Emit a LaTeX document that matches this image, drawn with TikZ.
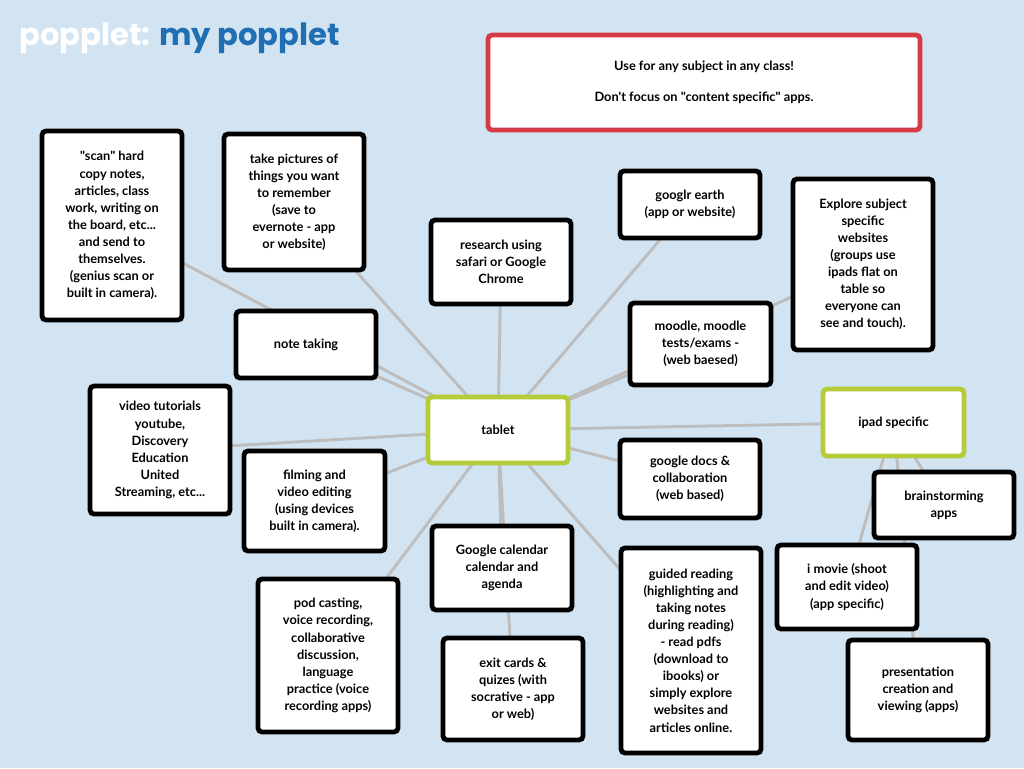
\documentclass[tikz,border=0pt]{standalone}
\usepackage{fontspec}
\setmainfont{Lato}[Ligatures=TeXOff]
\newfontfamily\titlefont{Poppins}
\pgfdeclarelayer{bg}\pgfdeclarelayer{edges}
\pgfsetlayers{bg,edges,main}
\definecolor{sky}{HTML}{D2E4F2}
\definecolor{ttl}{HTML}{1F6FB2}
\definecolor{grn}{HTML}{B5CC3A}
\definecolor{rd}{HTML}{D63A45}
\definecolor{edge}{HTML}{BDBDBD}
\newcommand{\q}{\symbol{34}}
\tikzset{
 box/.style={draw=black,line width=3.6pt,fill=white,rounded corners=3pt,align=center,font=\bfseries\fontsize{9.6}{12.8}\selectfont,inner sep=2pt},
 gbox/.style={box,draw=grn},
 rbox/.style={box,draw=rd},
 link/.style={draw=edge,line width=2.2pt}
}
\newcommand{\pbox}[6]{\node[#1,minimum width={(#4-#2)*0.75pt},minimum height={(#5-#3)*0.75pt}] (#6) at ({(#2+#4)/2},{(#3+#5)/2})}
\begin{document}
\begin{tikzpicture}[x=0.75pt,y=-0.75pt]
\begin{pgfonlayer}{bg}
\fill[sky] (0,0) rectangle (1024,768);
\end{pgfonlayer}
\useasboundingbox (0,0) rectangle (1024,768);
\node[anchor=west,inner sep=0,font=\titlefont\bfseries\fontsize{23}{28}\selectfont] (title) at (19,38) {\textcolor{white}{popplet:} \textcolor{ttl}{my popplet}};
\pbox{rbox}{488}{35}{920}{130}{note} {Use for any subject in any class!\\[10pt]Don't focus on \q content specific\q{} apps.};
\pbox{box}{42}{131}{182}{320}{scan} {\q scan\q{} hard\\copy notes,\\articles, class\\work, writing on\\the board, etc...\\and send to\\themselves.\\(genius scan or\\built in camera).};
\pbox{box}{224}{134}{364}{270}{pics} {take pictures of\\things you want\\to remember\\(save to\\evernote - app\\or website)};
\pbox{box}{431}{220}{571}{304}{research} {research using\\safari or Google\\Chrome};
\pbox{box}{236}{311}{376}{378}{notes} {note taking};
\pbox{box}{620}{171}{760}{238}{earth} {googlr earth\\(app or website)};
\pbox{box}{793}{179}{933}{350}{explore} {Explore subject\\specific\\websites\\(groups use\\ipads flat on\\table so\\everyone can\\see and touch).};
\pbox{box}{630}{303}{771}{385}{moodle} {moodle, moodle\\tests/exams -\\(web baesed)};
\pbox{gbox}{428}{397}{568}{463}{tablet} {tablet};
\pbox{gbox}{823}{389}{964}{456}{ipad} {ipad specific};
\pbox{box}{90}{386}{230}{514}{video} {video tutorials\\youtube,\\Discovery\\Education\\United\\Streaming, etc...};
\pbox{box}{244}{451}{385}{551}{film} {filming and\\video editing\\(using devices\\built in camera).};
\pbox{box}{620}{440}{760}{518}{docs} {google docs \&\\collaboration\\(web based)};
\pbox{box}{432}{526}{572}{610}{cal} {Google calendar\\calendar and\\agenda};
\pbox{box}{874}{472}{1014}{538}{brain} {brainstorming\\apps};
\pbox{box}{777}{545}{917}{629}{imovie} {i movie (shoot\\and edit video)\\(app specific)};
\pbox{box}{258}{579}{398}{732}{pod} {pod casting,\\voice recording,\\collaborative\\discussion,\\language\\practice (voice\\recording apps)};
\pbox{box}{443}{638}{583}{740}{exit} {exit cards \&\\quizes (with\\socrative - app\\or web)};
\pbox{box}{621}{548}{761}{753}{guided} {guided reading\\(highlighting and\\taking notes\\during reading)\\- read pdfs\\(download to\\ibooks) or\\simply explore\\websites and\\articles online.};
\pbox{box}{848}{640}{988}{740}{pres} {presentation\\creation and\\viewing (apps)};
\begin{pgfonlayer}{edges}
\foreach \n in {scan,pics,research,notes,earth,explore,moodle,ipad,video,film,docs,cal,pod,exit,guided}
  \draw[link] (tablet.center) -- (\n.center);
\foreach \n in {brain,imovie,pres}
  \draw[link] (ipad.center) -- (\n.center);
\end{pgfonlayer}
\end{tikzpicture}
\end{document}
